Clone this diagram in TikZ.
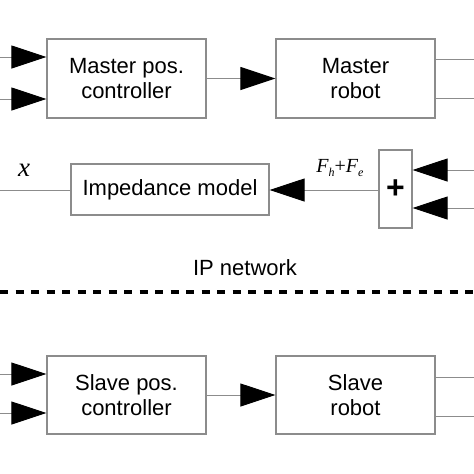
\documentclass[tikz,border=0pt]{standalone}
\usepackage{fontspec}
\setmainfont{Liberation Sans}
\newfontfamily\serifit{Liberation Serif}
\usetikzlibrary{arrows.meta}
\definecolor{linegray}{RGB}{140,140,140}
\tikzset{
  blk/.style={draw=linegray, line width=1.3pt, fill=white, inner sep=0pt, align=center, font=\fontsize{22}{25}\selectfont},
  sig/.style={draw=linegray, line width=1pt},
  arr/.style={sig, -{Triangle[length=35pt,width=23pt,fill=black,color=black]}},
}
\begin{document}
\begin{tikzpicture}[x=1pt,y=-1pt]
\useasboundingbox (0,0) rectangle (474,474);
% Master
\node[blk, minimum width=159pt, minimum height=79pt] (mpc) at (126.5,78.5) {Master pos.\\controller};
\node[blk, minimum width=159pt, minimum height=79pt] (mr) at (355.5,78.5) {Master\\robot};
\coordinate (mi1) at (0,57);
\coordinate (mi2) at (0,99);
\draw[arr] (mi1) -- (mi1 -| mpc.west);
\draw[arr] (mi2) -- (mi2 -| mpc.west);
\draw[arr] (mpc.east) -- (mr.west);
\coordinate (mo1) at (474,59);
\coordinate (mo2) at (474,98);
\draw[sig] (mo1 -| mr.east) -- (mo1);
\draw[sig] (mo2 -| mr.east) -- (mo2);
% Impedance
\node[blk, minimum width=198pt, minimum height=51pt] (imp) at (170,189.5) {Impedance model};
\node[blk, minimum width=33pt, minimum height=78pt, font=\fontsize{32}{34}\selectfont\bfseries] (sum) at (395.5,189) {+};
\coordinate (xo) at (0,190);
\draw[sig] (imp.west |- xo) -- (xo);
\node[font=\serifit\itshape\fontsize{27}{29}\selectfont, anchor=base] (xl) at (24,176) {x};
\draw[arr] (sum.west |- 0,190) -- (imp.east |- 0,190);
\node[font=\serifit\fontsize{20}{22}\selectfont, anchor=base] (fl) at (340,172) {\itshape F\raisebox{-0.45ex}{\fontsize{12}{13}\selectfont h}\upshape+\itshape F\raisebox{-0.45ex}{\fontsize{12}{13}\selectfont e}};
\coordinate (si1) at (474,170);
\coordinate (si2) at (474,208);
\draw[arr] (si1) -- (si1 -| sum.east);
\draw[arr] (si2) -- (si2 -| sum.east);
% network
\node[font=\fontsize{22}{24}\selectfont] (ip) at (245,268) {IP network};
\coordinate (dl) at (0,292);
\coordinate (dr) at (474,292);
\draw[line width=4pt, dash pattern=on 8pt off 7.5pt] (dl) -- (dr);
% Slave
\node[blk, minimum width=159pt, minimum height=78pt] (spc) at (126.5,395) {Slave pos.\\controller};
\node[blk, minimum width=159pt, minimum height=78pt] (sr) at (355.5,395) {Slave\\robot};
\coordinate (si3) at (0,374);
\coordinate (si4) at (0,413);
\draw[arr] (si3) -- (si3 -| spc.west);
\draw[arr] (si4) -- (si4 -| spc.west);
\draw[arr] (spc.east) -- (sr.west);
\coordinate (so1) at (474,377);
\coordinate (so2) at (474,416);
\draw[sig] (so1 -| sr.east) -- (so1);
\draw[sig] (so2 -| sr.east) -- (so2);
\end{tikzpicture}
\end{document}
